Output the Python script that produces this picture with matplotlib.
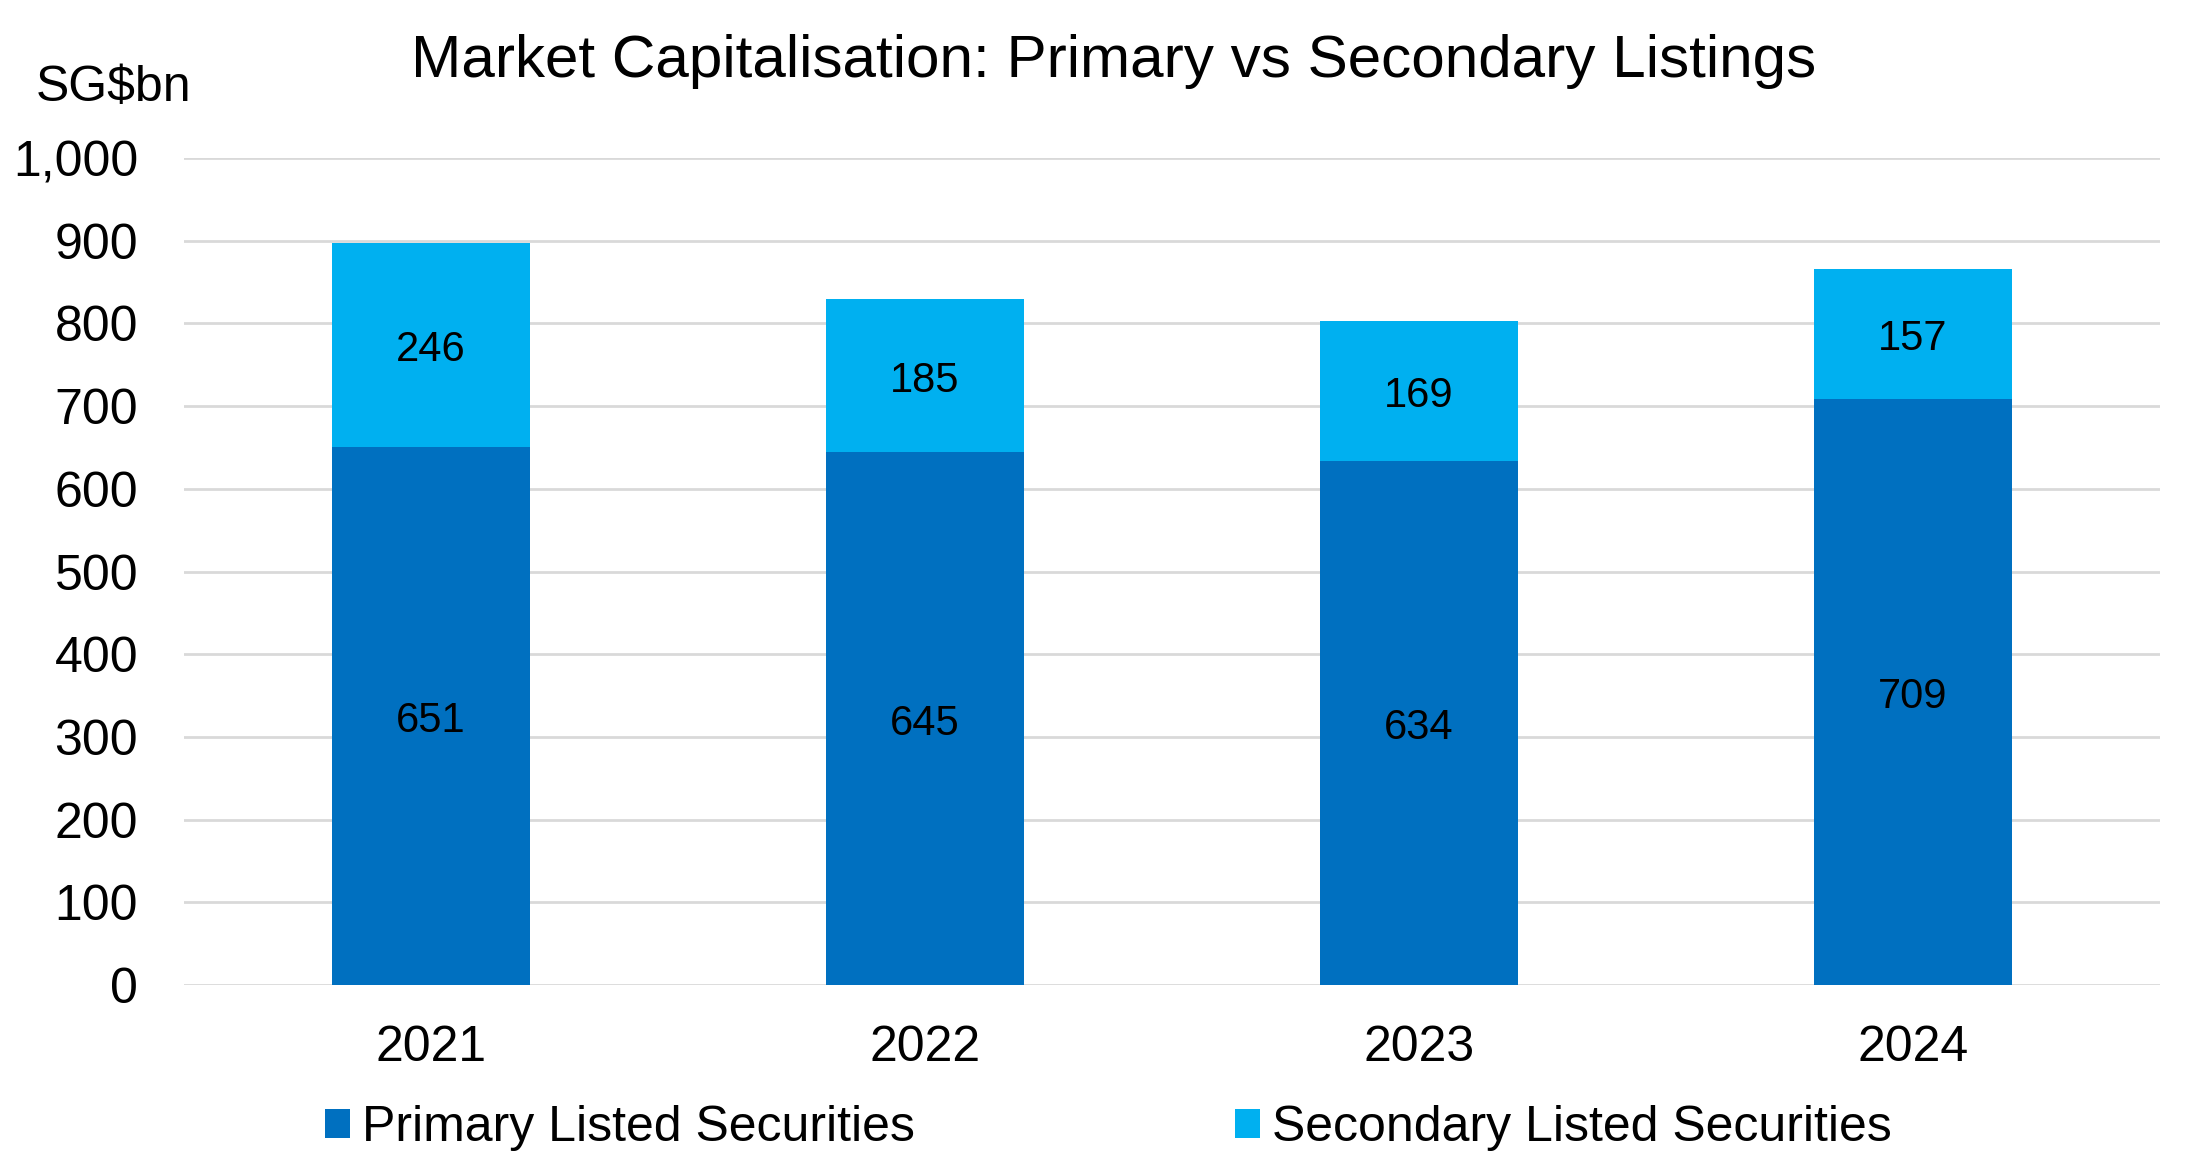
import matplotlib
matplotlib.use("Agg")
import matplotlib.pyplot as plt
import numpy as np

plt.rcParams['font.family'] = ['Liberation Sans', 'DejaVu Sans']

years = ['2021', '2022', '2023', '2024']
primary = [651, 645, 634, 709]
secondary = [246, 185, 169, 157]
yticks = [0, 100, 200, 300, 400, 500, 600, 700, 800, 900, 1000]

dark_blue = '#0070C0'
light_blue = '#00B0F0'

fig = plt.figure(figsize=(22.08, 11.69), dpi=100)
ax = fig.add_axes([0.0833, 0.1574, 0.8950, 0.7074])

x = np.arange(len(years))
b1 = ax.bar(x, primary, width=0.4, color=dark_blue, label='Primary Listed Securities', zorder=3)
b2 = ax.bar(x, secondary, width=0.4, bottom=primary, color=light_blue,
            label='Secondary Listed Securities', zorder=3)

# value labels in the middle of each segment
for i in range(len(years)):
    ax.annotate(str(primary[i]), (x[i], primary[i] / 2), xytext=(0, -4), textcoords='offset points',
                ha='center', va='center', fontsize=30, zorder=4)
    ax.annotate(str(secondary[i]), (x[i], primary[i] + secondary[i] / 2), xytext=(0, -4),
                textcoords='offset points', ha='center', va='center', fontsize=30, zorder=4)

ax.set_xlim(-0.5, len(years) - 0.5)
ax.set_ylim(0, 1000)
ax.set_yticks(yticks)
ax.set_yticklabels(['{:,}'.format(v) for v in yticks])
ax.set_xticks(x)
ax.set_xticklabels(years)
ax.tick_params(axis='y', length=0, labelsize=36, pad=33)
ax.tick_params(axis='x', length=0, labelsize=36, pad=29)
ax.grid(axis='y', color='#D9D9D9', linewidth=2, zorder=0)
for s in ax.spines.values():
    s.set_visible(False)

fig.text(0.5045, 0.947, 'Market Capitalisation: Primary vs Secondary Listings',
         ha='center', va='center', fontsize=43.4)
fig.text(0.016, 0.925, 'SG$bn', ha='left', va='center', fontsize=36)

fig.legend(handles=[b1, b2], loc='center', bbox_to_anchor=(0.502, 0.035), ncol=2,
           frameon=False, fontsize=36, handlelength=0.5, handleheight=0.5,
           handletextpad=0.25, columnspacing=6.4, borderaxespad=0)

fig.savefig('out.png', dpi=100)
